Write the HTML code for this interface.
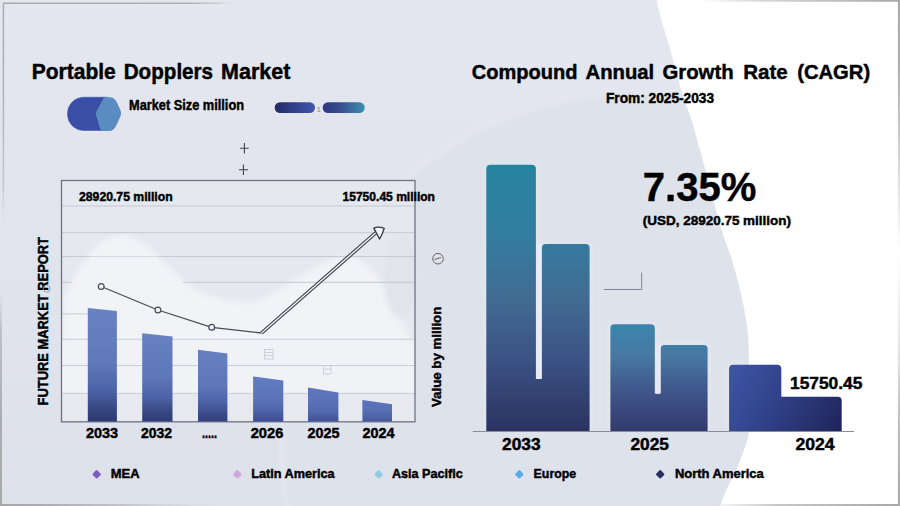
<!DOCTYPE html>
<html><head><meta charset="utf-8">
<style>
html,body{margin:0;padding:0;width:900px;height:506px;overflow:hidden;background:#e4e7ef;}
svg{display:block;}
text{font-family:"Liberation Sans",sans-serif;font-weight:bold;fill:#000;stroke:#000;stroke-width:0.45px;}
</style></head>
<body>
<svg width="900" height="506" viewBox="0 0 900 506">
<defs>
  <filter id="soft" x="-10%" y="-10%" width="120%" height="120%"><feGaussianBlur stdDeviation="3"/></filter>
  <filter id="soft2" x="-10%" y="-20%" width="120%" height="140%"><feGaussianBlur stdDeviation="2.5"/></filter>
  <linearGradient id="bgL" x1="0" y1="0" x2="0" y2="1">
    <stop offset="0" stop-color="#e4e7ef"/>
    <stop offset="1" stop-color="#dde1ea"/>
  </linearGradient>
  <linearGradient id="barL" x1="0" y1="0" x2="0" y2="1">
    <stop offset="0" stop-color="#5f7cc4"/>
    <stop offset="0.6" stop-color="#4b63ad"/>
    <stop offset="1" stop-color="#2f3e7e"/>
  </linearGradient>
  <linearGradient id="barR" gradientUnits="userSpaceOnUse" x1="0" y1="165" x2="0" y2="431">
    <stop offset="0" stop-color="#2684a0"/>
    <stop offset="0.25" stop-color="#327ea0"/>
    <stop offset="0.5" stop-color="#426b93"/>
    <stop offset="0.75" stop-color="#3a5082"/>
    <stop offset="1" stop-color="#2b3360"/>
  </linearGradient>
  <linearGradient id="barR2" gradientUnits="userSpaceOnUse" x1="0" y1="324" x2="0" y2="431">
    <stop offset="0" stop-color="#3a86ac"/>
    <stop offset="0.3" stop-color="#4778a2"/>
    <stop offset="0.65" stop-color="#3f548a"/>
    <stop offset="1" stop-color="#323a6c"/>
  </linearGradient>
  <linearGradient id="barR3" gradientUnits="userSpaceOnUse" x1="729" y1="365" x2="842" y2="431">
    <stop offset="0" stop-color="#3e56a8"/>
    <stop offset="0.5" stop-color="#2f3f85"/>
    <stop offset="1" stop-color="#1f2458"/>
  </linearGradient>
  <linearGradient id="pill1" x1="0" y1="0" x2="1" y2="0">
    <stop offset="0" stop-color="#232a66"/>
    <stop offset="1" stop-color="#4257ad"/>
  </linearGradient>
  <linearGradient id="pill2" x1="0" y1="0" x2="1" y2="0">
    <stop offset="0" stop-color="#2c3880"/>
    <stop offset="0.45" stop-color="#3a4f92"/>
    <stop offset="1" stop-color="#3a93ae"/>
  </linearGradient>
  <linearGradient id="bl0" x1="0" y1="0" x2="0" y2="1"><stop offset="0" stop-color="#6882c2"/><stop offset="0.5" stop-color="#5f78b8"/><stop offset="0.73" stop-color="#4c62a6"/><stop offset="0.9" stop-color="#36457e"/><stop offset="1" stop-color="#2c3872"/></linearGradient>
  <linearGradient id="bl1" x1="0" y1="0" x2="0" y2="1"><stop offset="0" stop-color="#6781c2"/><stop offset="0.5" stop-color="#5e77b8"/><stop offset="0.73" stop-color="#4c62a6"/><stop offset="0.9" stop-color="#37467f"/><stop offset="1" stop-color="#2e3a76"/></linearGradient>
  <linearGradient id="bl2" x1="0" y1="0" x2="0" y2="1"><stop offset="0" stop-color="#6680c2"/><stop offset="0.5" stop-color="#5d77b8"/><stop offset="0.73" stop-color="#4d63a8"/><stop offset="0.9" stop-color="#3a4987"/><stop offset="1" stop-color="#33417f"/></linearGradient>
  <linearGradient id="bl3" x1="0" y1="0" x2="0" y2="1"><stop offset="0" stop-color="#617cc0"/><stop offset="0.5" stop-color="#5a74b6"/><stop offset="0.73" stop-color="#4f66ab"/><stop offset="0.9" stop-color="#43549a"/><stop offset="1" stop-color="#3c4c94"/></linearGradient>
  <linearGradient id="bl4" x1="0" y1="0" x2="0" y2="1"><stop offset="0" stop-color="#5e78bd"/><stop offset="0.5" stop-color="#5870b4"/><stop offset="0.73" stop-color="#5068aa"/><stop offset="0.9" stop-color="#46579e"/><stop offset="1" stop-color="#41519a"/></linearGradient>
  <linearGradient id="bl5" x1="0" y1="0" x2="0" y2="1"><stop offset="0" stop-color="#5a72ba"/><stop offset="0.5" stop-color="#5670b4"/><stop offset="0.73" stop-color="#5068aa"/><stop offset="0.9" stop-color="#4a5aa2"/><stop offset="1" stop-color="#46569e"/></linearGradient>
</defs>

<!-- background -->
<rect x="0" y="0" width="900" height="506" fill="url(#bgL)"/>
<circle cx="640" cy="450" r="358" fill="#dee2ea" stroke="#e6e9f0" stroke-width="3" filter="url(#soft2)"/>
<path d="M656.6,0 C657.6,3.9 660.3,15.8 662.5,23.7 C664.7,31.6 666.2,35.5 669.6,47.4 C673.0,59.2 679.1,83.0 682.7,94.8 C686.3,106.6 688.1,109.3 691,118.5 C693.9,127.7 694.9,131.4 700,150 C705.1,168.6 716.8,213.1 721.7,230 C726.6,246.9 726.9,244.4 729.3,251.7 C731.7,258.9 733.9,266.2 735.9,273.5 C737.9,280.8 739.7,287.9 741.3,295.2 C742.9,302.4 744.5,309.8 745.7,317 C746.9,324.2 747.8,331.2 748.3,338.7 C748.8,346.2 748.8,351.8 748.9,362 C749.0,372.2 749.2,388.3 749.2,400 C749.2,411.7 750.1,423.0 749,432 C747.9,441.0 744.7,447.5 742.5,454 C740.3,460.5 738.2,465.3 735.7,471 C733.2,476.7 729.6,482.7 727.2,488 C724.8,493.3 722.4,500.0 721.2,503 C720.0,506.0 720.2,505.5 720,506 L900,506 L900,0 Z" fill="#ffffff"/>

<!-- frame border -->
<linearGradient id="rb" gradientUnits="userSpaceOnUse" x1="0" y1="0" x2="0" y2="506">
  <stop offset="0" stop-color="#a8a8a8"/><stop offset="0.14" stop-color="#b0b0b0"/><stop offset="0.32" stop-color="#d8d8d8"/><stop offset="0.5" stop-color="#ffffff"/><stop offset="0.69" stop-color="#e4e4e4"/><stop offset="0.85" stop-color="#bcbcbc"/><stop offset="1" stop-color="#a8a8a8"/>
</linearGradient>
<linearGradient id="tb" gradientUnits="userSpaceOnUse" x1="3" y1="0" x2="240" y2="0">
  <stop offset="0" stop-color="#a8aab0"/><stop offset="0.77" stop-color="#aeb0b6"/><stop offset="0.9" stop-color="#c8cad0"/><stop offset="1" stop-color="#e4e7ef" stop-opacity="0"/>
</linearGradient>
<linearGradient id="trb" gradientUnits="userSpaceOnUse" x1="700" y1="0" x2="900" y2="0">
  <stop offset="0" stop-color="#ffffff"/><stop offset="0.3" stop-color="#d8d8d8"/><stop offset="1" stop-color="#a8a8a8"/>
</linearGradient>
<path d="M3.2,3.2 L240,3.2" fill="none" stroke="url(#tb)" stroke-width="1.6"/>
<linearGradient id="lb1" gradientUnits="userSpaceOnUse" x1="0" y1="3" x2="0" y2="235">
  <stop offset="0" stop-color="#a8aab0"/><stop offset="0.5" stop-color="#b4b6bc"/><stop offset="0.8" stop-color="#c4c6cd"/><stop offset="1" stop-color="#e4e7ef" stop-opacity="0"/>
</linearGradient>
<linearGradient id="lb2" gradientUnits="userSpaceOnUse" x1="0" y1="290" x2="0" y2="506">
  <stop offset="0" stop-color="#c8ccd2" stop-opacity="0"/><stop offset="0.18" stop-color="#bcc0c6"/><stop offset="0.6" stop-color="#a8acb0"/><stop offset="1" stop-color="#a4a8aa"/>
</linearGradient>
<path d="M3.4,3.2 L3.4,235" fill="none" stroke="url(#lb1)" stroke-width="1.5"/>
<rect x="0" y="290" width="1.9" height="216" fill="url(#lb2)"/>
<path d="M700,0.8 L899,0.8" fill="none" stroke="url(#trb)" stroke-width="1.8"/>
<rect x="897.9" y="0" width="2.1" height="506" fill="url(#rb)"/>
<linearGradient id="bb" gradientUnits="userSpaceOnUse" x1="0" y1="0" x2="900" y2="0">
  <stop offset="0" stop-color="#a4a8aa"/><stop offset="0.04" stop-color="#a8acb0"/><stop offset="0.14" stop-color="#c2c6cc"/><stop offset="0.26" stop-color="#dde1ea" stop-opacity="0"/><stop offset="0.77" stop-color="#dde1ea" stop-opacity="0"/><stop offset="0.86" stop-color="#c8c8c8"/><stop offset="1" stop-color="#a8a8a8"/>
</linearGradient>
<rect x="0" y="504" width="900" height="2" fill="url(#bb)"/>

<!-- LEFT TITLE -->
<text x="31.8" y="79.2" font-size="21.5" textLength="83.9" lengthAdjust="spacingAndGlyphs">Portable</text>
<text x="123.7" y="79.2" font-size="21.5" textLength="89.4" lengthAdjust="spacingAndGlyphs">Dopplers</text>
<text x="221.1" y="79.2" font-size="21.5" textLength="69.3" lengthAdjust="spacingAndGlyphs">Market</text>

<!-- pill icon -->
<path d="M84,96.8 L108,96.8 L112,113.5 L108,131 L84,131 A17.1,17.1 0 0 1 84,96.8 Z" fill="#3a4ea8" stroke="#eef2fa" stroke-width="0.8" stroke-opacity="0.6"/>
<path d="M103.2,97.2 L110,97.2 Q114,97.2 117,102.5 L120.6,110.5 Q121.8,113.2 120.6,116 L117,124 Q114,130.9 110,130.9 L100,130.9 L94.8,113.2 Z" fill="#5a8cc2"/>
<path d="M103.4,97.2 L94.9,113.2 L100.2,130.9" fill="none" stroke="#33459a" stroke-width="1"/>
<text x="129" y="110" font-size="14" textLength="115" lengthAdjust="spacingAndGlyphs">Market Size million</text>

<rect x="274.7" y="102.3" width="40.3" height="10.7" rx="5.35" fill="url(#pill1)"/>
<text x="316.5" y="111.5" font-size="8" style="font-weight:normal;fill:#8a8c98;stroke:none">1</text>
<rect x="322.7" y="102.3" width="42" height="10.7" rx="5.35" fill="url(#pill2)"/>

<!-- plus signs -->
<path d="M240,148.3 L248.7,148.3 M244.4,143 L244.4,153.5" stroke="#444" stroke-width="1.1" fill="none"/>
<path d="M239,169.8 L248,169.8 M243.4,164.5 L243.4,175" stroke="#444" stroke-width="1.1" fill="none"/>

<!-- CHART BOX -->
<rect x="61.5" y="180.5" width="353.5" height="241.3" fill="#e5e8ef"/>
<g filter="url(#soft2)">
<path d="M62,345 L64,300 C72,275 95,236 121,234 C142,234 162,262 185,282 C205,296 228,302 250,302 C275,300 312,260 343,256 C366,254 382,282 396,310 L414,345 Z" fill="#f1f3f7"/>
<ellipse cx="401" cy="277" rx="17" ry="42" fill="#e1e4eb"/>
</g>
<rect x="62" y="339.3" width="352.5" height="54.1" fill="#f1f2f6"/>
<rect x="62" y="393.4" width="352.5" height="28" fill="#e7e9ef"/>
<g stroke="#c6c9d1" stroke-width="1" fill="none">
  <path d="M62,206 H415 M62,232.7 H415"/>
  <path d="M62,256.6 H90 M158,256.6 H415"/>
  <path d="M62,282.3 H72 M183,282.3 H415"/>
  <path d="M62,313.9 H88"/>
  <path d="M62,339.3 H415 M62,365.5 H415 M62,393.4 H415" stroke="#cbcdd5"/>
</g>
<g stroke="#d6d9e0" stroke-width="1" fill="none">
  <path d="M90,256.6 H158"/>
</g>
<rect x="61.5" y="180.5" width="353.5" height="241.3" fill="none" stroke="#6f7282" stroke-width="1.3"/>

<text x="79" y="201" font-size="12.3" textLength="93.7" lengthAdjust="spacingAndGlyphs">28920.75 million</text>
<text x="342.5" y="201" font-size="12.3" textLength="92.5" lengthAdjust="spacingAndGlyphs">15750.45 million</text>

<!-- bars -->
<path d="M87.8,308.1 L116.9,311.0 L116.9,421.5 L87.8,421.5 Z" fill="url(#bl0)"/>
<path d="M142.2,333.3 L172.5,336.5 L172.5,421.5 L142.2,421.5 Z" fill="url(#bl1)"/>
<path d="M198.0,349.8 L227.4,353.4 L227.4,421.5 L198.0,421.5 Z" fill="url(#bl2)"/>
<path d="M253.1,376.4 L283.3,380.6 L283.3,421.5 L253.1,421.5 Z" fill="url(#bl3)"/>
<path d="M308.0,387.4 L338.4,392.4 L338.4,421.5 L308.0,421.5 Z" fill="url(#bl4)"/>
<path d="M362.4,399.9 L392.0,404.3 L392.0,421.5 L362.4,421.5 Z" fill="url(#bl5)"/>

<!-- line -->
<polyline points="101.2,286.5 157.9,310 211.7,327.3 261.6,333" fill="none" stroke="#4a4c58" stroke-width="1.3"/>
<g fill="#eef0f5" stroke="#4a4c58" stroke-width="1.2">
  <circle cx="101.2" cy="286.5" r="2.9"/>
  <circle cx="157.9" cy="310" r="2.9"/>
  <circle cx="211.7" cy="327.3" r="2.9"/>
</g>
<path d="M261.6,333 L378.4,230.5" stroke="#3a3c48" stroke-width="3.6" fill="none"/>
<path d="M261.6,333 L378.4,230.5" stroke="#f4f5f8" stroke-width="1.4" fill="none"/>
<path d="M373.8,228.2 Q378,226 384.2,228.4 Q382.5,234 379.6,239 Z" fill="#f4f5f8" stroke="#3a3c48" stroke-width="1.4" stroke-linejoin="round"/>

<!-- small icons -->
<g stroke="#c5c8d2" stroke-width="0.8" fill="none">
  <rect x="264.5" y="349.5" width="8.5" height="9.5"/>
  <line x1="264.5" y1="352.5" x2="273" y2="352.5"/><line x1="264.5" y1="355.5" x2="273" y2="355.5"/>
  <rect x="323.5" y="365.5" width="7.5" height="8.5"/>
  <line x1="323.5" y1="369" x2="331" y2="369"/>
</g>

<!-- x labels left -->
<g font-size="14">
<text x="86" y="438.2" textLength="32" lengthAdjust="spacingAndGlyphs">2033</text>
<text x="141" y="438.2" textLength="31" lengthAdjust="spacingAndGlyphs">2032</text>
<text x="202" y="438.2" textLength="15" lengthAdjust="spacingAndGlyphs">.....</text>
<text x="250.7" y="438.2" textLength="32.6" lengthAdjust="spacingAndGlyphs">2026</text>
<text x="307.6" y="438.2" textLength="32" lengthAdjust="spacingAndGlyphs">2025</text>
<text x="362.4" y="438.2" textLength="32" lengthAdjust="spacingAndGlyphs">2024</text>
</g>

<!-- vertical texts -->
<text transform="translate(48.3,405.4) rotate(-90)" x="0" y="0" font-size="15" textLength="168.4" lengthAdjust="spacingAndGlyphs">FUTURE MARKET REPORT</text>
<circle cx="46.7" cy="288.7" r="3.5" fill="none" stroke="#999" stroke-width="0.9"/>
<text transform="translate(440.8,407) rotate(-90)" x="0" y="0" font-size="13.2" textLength="100.3" lengthAdjust="spacingAndGlyphs">Value by million</text>
<circle cx="438" cy="258.7" r="5.3" fill="none" stroke="#666" stroke-width="1"/>
<path d="M434.5,259.5 L441,257.5" stroke="#666" stroke-width="1"/>

<!-- RIGHT TITLE -->
<text x="471.8" y="79.4" font-size="21" textLength="105.6" lengthAdjust="spacingAndGlyphs">Compound</text>
<text x="585.5" y="79.4" font-size="21" textLength="68.7" lengthAdjust="spacingAndGlyphs">Annual</text>
<text x="662.4" y="79.4" font-size="21" textLength="71.2" lengthAdjust="spacingAndGlyphs">Growth</text>
<text x="743.3" y="79.4" font-size="21" textLength="44.5" lengthAdjust="spacingAndGlyphs">Rate</text>
<text x="797.2" y="79.4" font-size="21" textLength="73.0" lengthAdjust="spacingAndGlyphs">(CAGR)</text>
<text x="606" y="103.2" font-size="14" textLength="108" lengthAdjust="spacingAndGlyphs">From: 2025-2033</text>

<text x="642.8" y="201.2" font-size="40" textLength="113.4" lengthAdjust="spacingAndGlyphs">7.35%</text>
<text x="642.8" y="225.2" font-size="13.5" textLength="148.2" lengthAdjust="spacingAndGlyphs">(USD, 28920.75 million)</text>

<!-- right bars -->
<g filter="url(#soft2)" fill="none" stroke="#eef1f7" stroke-width="3" opacity="0.5">
<path d="M486.3,431 L486.3,169 Q486.3,164.8 490.5,164.8 L531.7,164.8 Q535.9,164.8 535.9,169 L535.9,244 L585.6,244 Q589.6,244 589.6,248 L589.6,431"/>
<path d="M610.4,431 L610.4,328.2 Q610.4,324.2 614.4,324.2 L650.8,324.2 Q654.8,324.2 654.8,328.2 L654.8,345 L703.6,345 Q707.6,345 707.6,349 L707.6,431"/>
<path d="M729.1,431 L729.1,369 Q729.1,364.8 733.3,364.8 L777.1,364.8 Q781.3,364.8 781.3,369 L781.3,396.7"/>
</g>
<path d="M486.3,431 L486.3,169 Q486.3,164.8 490.5,164.8 L531.7,164.8 Q535.9,164.8 535.9,169 L535.9,379 L541.8,379 L541.8,248 Q541.8,244 545.8,244 L585.6,244 Q589.6,244 589.6,248 L589.6,431 Z" fill="url(#barR)"/>
<path d="M610.4,431 L610.4,328.2 Q610.4,324.2 614.4,324.2 L650.8,324.2 Q654.8,324.2 654.8,328.2 L654.8,393.6 L660.7,393.6 L660.7,349 Q660.7,345 664.7,345 L703.6,345 Q707.6,345 707.6,349 L707.6,431 Z" fill="url(#barR2)"/>
<path d="M729.1,431 L729.1,369 Q729.1,364.8 733.3,364.8 L777.1,364.8 Q781.3,364.8 781.3,369 L781.3,396.7 L837.7,396.7 Q841.7,396.7 841.7,400.7 L841.7,431 Z" fill="url(#barR3)"/>
<rect x="536.2" y="244" width="5.4" height="135" rx="1.5" fill="#e8ecf7"/>
<rect x="655.2" y="345" width="5.2" height="48.8" rx="1.5" fill="#e6eaf6"/>
<line x1="472.7" y1="431.5" x2="854" y2="431.5" stroke="#8a8d98" stroke-width="1.2"/>
<path d="M603.8,289.5 L641.7,289.5 L641.7,272.6" fill="none" stroke="#80849a" stroke-width="1"/>

<text x="790" y="389.1" font-size="17.4" textLength="72.4" lengthAdjust="spacingAndGlyphs">15750.45</text>
<g font-size="17">
<text x="502" y="450" textLength="38.6" lengthAdjust="spacingAndGlyphs">2033</text>
<text x="630.5" y="450" textLength="38.5" lengthAdjust="spacingAndGlyphs">2025</text>
<text x="795.4" y="450" textLength="39.2" lengthAdjust="spacingAndGlyphs">2024</text>
</g>

<!-- legend -->
<g font-size="13">
<rect x="93.4" y="471.0" width="6.6" height="6.6" rx="1.3" fill="#7b5cc0" transform="rotate(45 96.7 474.3)"/>
<text x="110.7" y="478.3" textLength="28.9" lengthAdjust="spacingAndGlyphs">MEA</text>
<rect x="234.0" y="471.0" width="6.6" height="6.6" rx="1.3" fill="#cfa6da" transform="rotate(45 237.3 474.3)"/>
<text x="251.2" y="478.3" textLength="83.5" lengthAdjust="spacingAndGlyphs">Latin America</text>
<rect x="375.4" y="471.0" width="6.6" height="6.6" rx="1.3" fill="#8fcbe3" transform="rotate(45 378.7 474.3)"/>
<text x="392" y="478.3" textLength="70.7" lengthAdjust="spacingAndGlyphs">Asia Pacific</text>
<rect x="516.0" y="471.0" width="6.6" height="6.6" rx="1.3" fill="#5aaae8" transform="rotate(45 519.3 474.3)"/>
<text x="533.6" y="478.3" textLength="42.6" lengthAdjust="spacingAndGlyphs">Europe</text>
<rect x="656.9" y="471.0" width="6.6" height="6.6" rx="1.3" fill="#2a2f62" transform="rotate(45 660.2 474.3)"/>
<text x="674.9" y="478.3" textLength="88.9" lengthAdjust="spacingAndGlyphs">North America</text>
</g>
</svg>
</body></html>
